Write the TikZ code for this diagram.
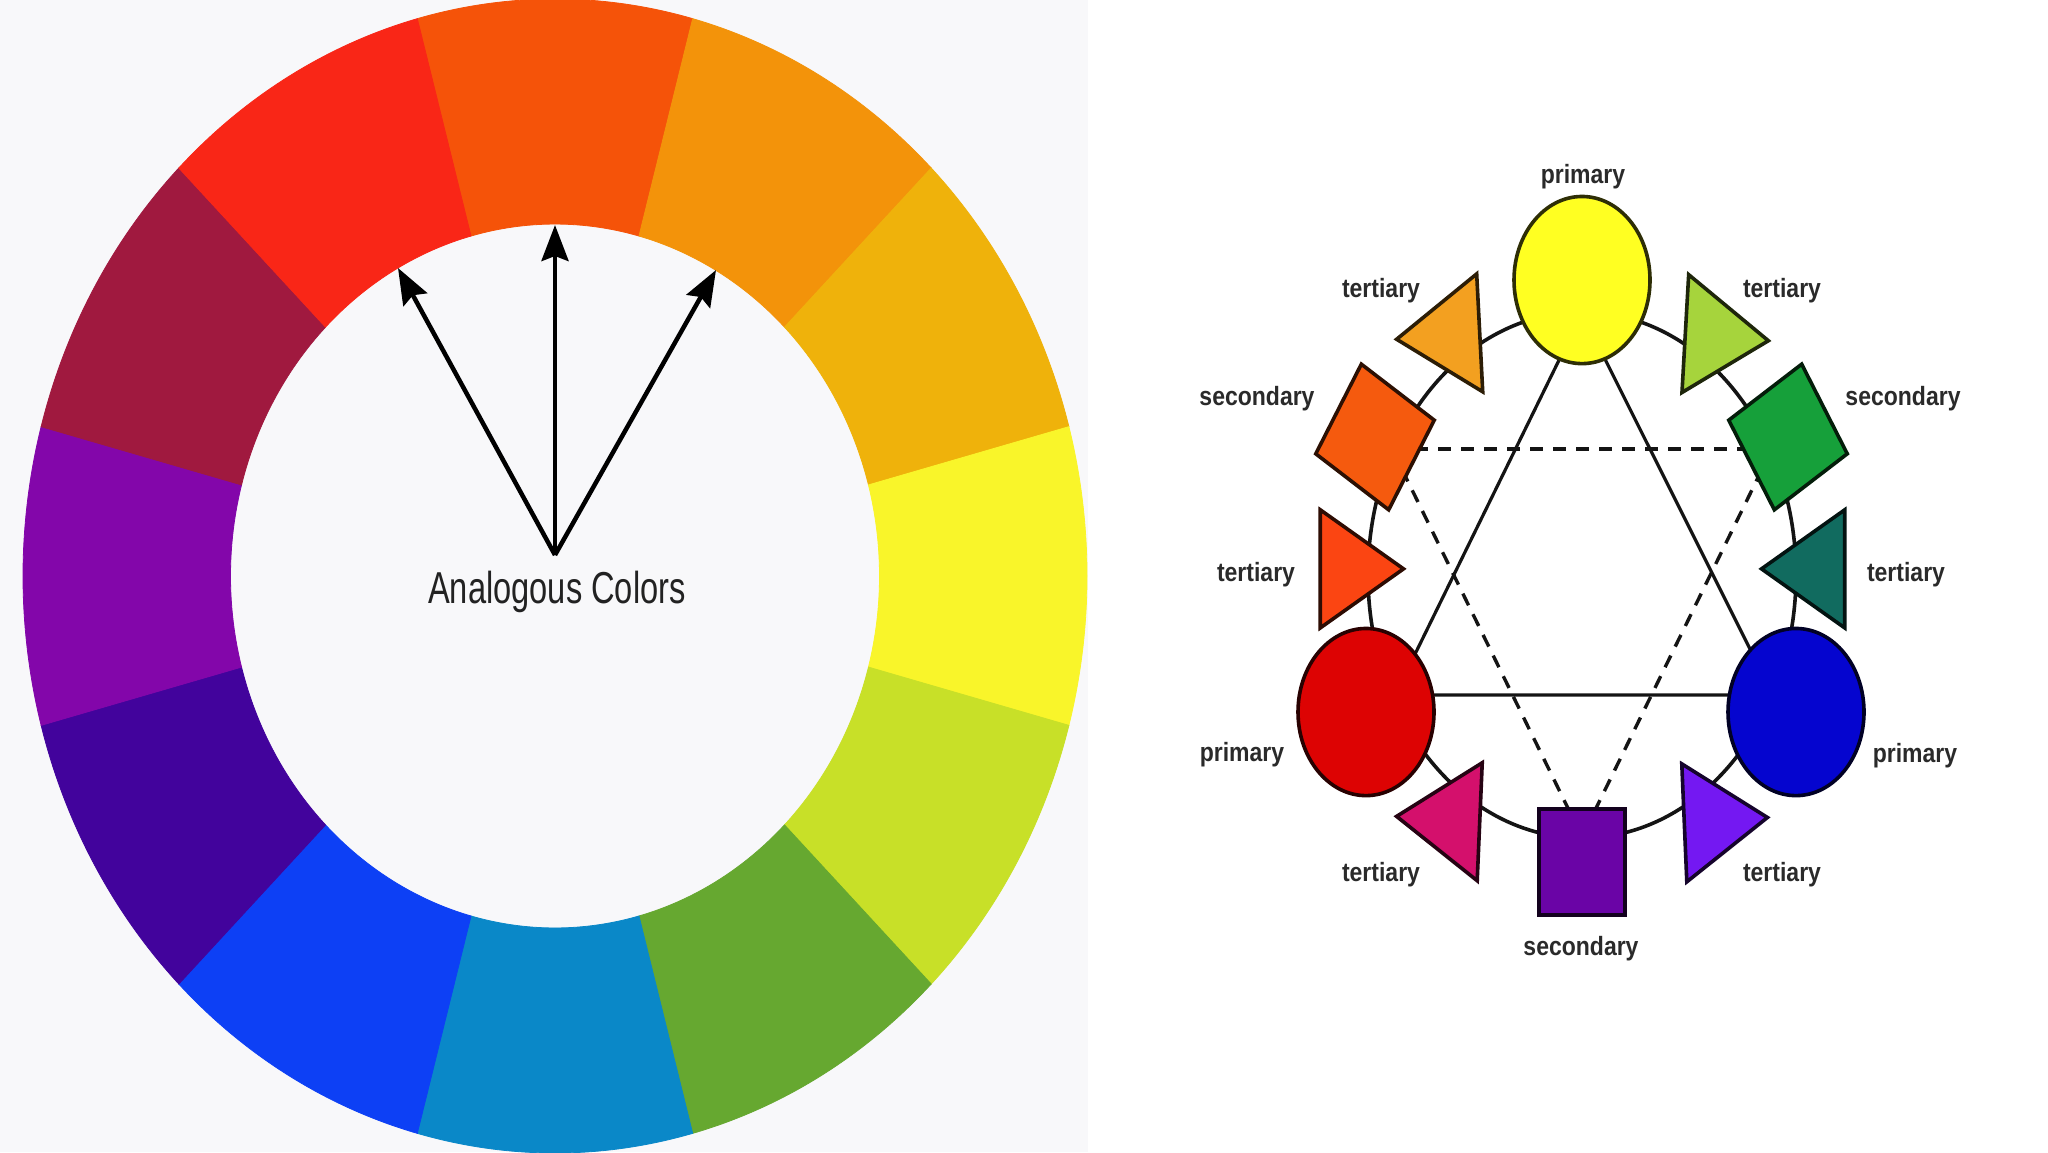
\documentclass[tikz,border=0pt]{standalone}
\usepackage{fontspec}
\setmainfont{Liberation Sans}
\usepackage{graphicx}
\usetikzlibrary{shapes.geometric,arrows.meta}

\definecolor{panelbg}{HTML}{F8F8FA}
\definecolor{wA}{HTML}{F55309}
\definecolor{wB}{HTML}{F3930A}
\definecolor{wC}{HTML}{EFB20B}
\definecolor{wD}{HTML}{F9F52A}
\definecolor{wE}{HTML}{C8E028}
\definecolor{wF}{HTML}{66A830}
\definecolor{wG}{HTML}{0A88C8}
\definecolor{wH}{HTML}{0D40F5}
\definecolor{wI}{HTML}{42039C}
\definecolor{wJ}{HTML}{8306AA}
\definecolor{wK}{HTML}{A0193F}
\definecolor{wL}{HTML}{F92617}
\definecolor{cyel}{HTML}{FFFF22}
\definecolor{cred}{HTML}{DD0303}
\definecolor{cblue}{HTML}{0505CF}
\definecolor{cpur}{HTML}{6A04A6}
\definecolor{cosq}{HTML}{F55A0E}
\definecolor{cgsq}{HTML}{16A03A}
\definecolor{tOr}{HTML}{F3A020}
\definecolor{tYg}{HTML}{A6D43C}
\definecolor{tTe}{HTML}{116B5F}
\definecolor{tRo}{HTML}{FB4512}
\definecolor{tMa}{HTML}{D4106C}
\definecolor{tVi}{HTML}{7418F2}
\definecolor{txt}{HTML}{222222}
\definecolor{labc}{HTML}{2A2A2A}

\newcommand{\vst}[1]{\scalebox{1}[1.15]{#1}}

\begin{document}
\begin{tikzpicture}[x=1pt,y=1pt,
  arr/.style={line width=4.5, draw=black, -{Stealth[length=36pt,width=27pt,inset=5pt]}},
  shp/.style={draw=#1!18!black, fill=#1, line width=3.6, inner sep=0, transform shape},
  prim/.style={circle, minimum size=136},
  secsq/.style={rectangle, minimum width=86, minimum height=86},
  tert/.style={regular polygon, regular polygon sides=3, minimum size=111},
  ringline/.style={line width=3.6, draw=black!92},
  tri/.style={line width=3.2, draw=black!92},
  dtri/.style={line width=3.4, draw=black!92, dash pattern=on 13pt off 10pt},
  lbl/.style={font=\fontsize{23}{27}\selectfont\bfseries, text=labc, inner sep=0}
]
\useasboundingbox (0,-1152) rectangle (2048,0);
\fill[white] (0,-1152) rectangle (2048,0);
\fill[panelbg] (0,-1152) rectangle (1088,0);

% ---- colour wheel ----
\begin{scope}[shift={(555,-576)}, xscale=532, yscale=577]
  \foreach \a/\c in {90/wA,60/wB,30/wC,0/wD,-30/wE,-60/wF,-90/wG,-120/wH,-150/wI,180/wJ,150/wK,120/wL}{
    \pgfmathsetmacro\sa{\a-15}
    \pgfmathsetmacro\ea{\a+15}
    \filldraw[fill=\c, draw=\c, line width=0.8pt]
      (\sa:1) arc[start angle=\sa, end angle=\ea, radius=1]
      -- (\ea:0.61) arc[start angle=\ea, end angle=\sa, radius=0.61] -- cycle;
  }
\end{scope}

\coordinate (ao) at (555,-555);
\coordinate (tl) at (398,-268);
\coordinate (tc) at (555,-225);
\coordinate (tr) at (716,-270);
\draw[arr] (ao) -- (tl);
\draw[arr] (ao) -- (tc);
\draw[arr] (ao) -- (tr);
\node[anchor=base, font=\fontsize{44.7}{50}\selectfont, text=txt, inner sep=0] (analog) at (557,-603) {\scalebox{0.73}[1]{Analogous Colors}};

% ---- primary / secondary / tertiary diagram ----
\begin{scope}[shift={(1582,-575)}, yscale=1.229]
  \draw[ringline] (0,0) circle[radius=214];
  \coordinate (s1) at (0,213);
  \coordinate (s2) at (-187,-97.6);
  \coordinate (s3) at (191,-97.6);
  \coordinate (d1) at (-190,102.5);
  \coordinate (d2) at (190,102.5);
  \coordinate (d3) at (0,-213);
  \draw[tri] (s1) -- (s2) -- (s3) -- cycle;
  \draw[dtri] (d1) -- (d2);
  \draw[dtri] (d1) -- (d3);
  \draw[dtri] (d2) -- (d3);

  \node[prim, shp=cyel] (Y) at (0,240) {};
  \node[prim, shp=cred] (R) at (-216,-111.5) {};
  \node[prim, shp=cblue] (B) at (214,-111.5) {};
  \node[secsq, shp=cpur] (P) at (0,-233.5) {};
  \node[secsq, shp=cosq, rotate=-32] (O) at (-207,112.3) {};
  \node[secsq, shp=cgsq, rotate=32] (G) at (206,112.3) {};
  \node[tert, shp=tOr, rotate=213.6] (tUL) at (-130,195.3) {};
  \node[tert, shp=tYg, rotate=146] (tUR) at (131,194.5) {};
  \node[tert, shp=tRo, rotate=270] (tL) at (-234,5) {};
  \node[tert, shp=tTe, rotate=90] (tR) at (235,5) {};
  \node[tert, shp=tMa, rotate=-33] (tLL) at (-130,-199.3) {};
  \node[tert, shp=tVi, rotate=33] (tLR) at (130,-200.2) {};
\end{scope}

\node[lbl] (lY) at (1583,-177) {\vst{primary}};
\node[lbl] (lUL) at (1381,-291) {\vst{tertiary}};
\node[lbl] (lUR) at (1782,-291) {\vst{tertiary}};
\node[lbl] (lO) at (1257,-399) {\vst{secondary}};
\node[lbl] (lG) at (1903,-399) {\vst{secondary}};
\node[lbl] (lL) at (1256,-575) {\vst{tertiary}};
\node[lbl] (lR) at (1906,-575) {\vst{tertiary}};
\node[lbl] (lRed) at (1242,-755) {\vst{primary}};
\node[lbl] (lBlue) at (1915,-756) {\vst{primary}};
\node[lbl] (lLL) at (1381,-875) {\vst{tertiary}};
\node[lbl] (lLR) at (1782,-875) {\vst{tertiary}};
\node[lbl] (lP) at (1581,-949) {\vst{secondary}};
\end{tikzpicture}
\end{document}
